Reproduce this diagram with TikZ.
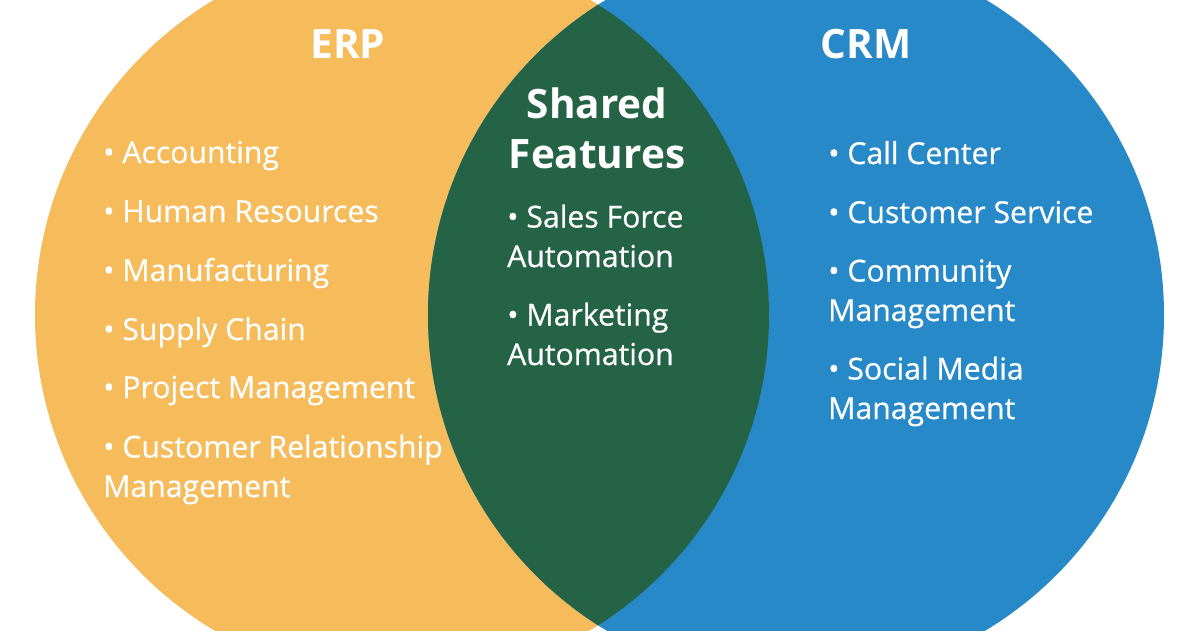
\documentclass[tikz,border=0pt]{standalone}
\usepackage{fontspec}
\setmainfont{Open Sans}
\definecolor{erp}{HTML}{F6BB5A}
\definecolor{crm}{HTML}{2889C8}
\definecolor{shared}{HTML}{256346}
\begin{document}
\begin{tikzpicture}[x=1pt,y=-1pt,
  item/.style={anchor=base west,inner sep=0pt,text=white,font=\addfontfeatures{FakeBold=0.6}\fontsize{30.2}{39.5}\selectfont,align=left},
  title/.style={anchor=base,inner sep=0pt,text=white,font=\bfseries\fontsize{40.5}{50}\selectfont,align=center}]
\useasboundingbox (0,0) rectangle (1200,630);
\clip (0,0) rectangle (1200,630);
\fill[erp] (402,315) circle (367);
\fill[crm] (796,315) circle (368);
\begin{scope}
\clip (402,315) circle (367);
\fill[shared] (796,315) circle (368);
\end{scope}
\node[title] (erp) at (348,58) {ERP};
\node[title] (crm) at (866,58) {CRM};
\node[title] (sh) at (597,168) {Shared\\Features};
\node[item] (a1) at (103,163) {• Accounting};
\node[item] (a2) at (103,222) {• Human Resources};
\node[item] (a3) at (103,281) {• Manufacturing};
\node[item] (a4) at (103,340) {• Supply Chain};
\node[item] (a5) at (103,398) {• Project Management};
\node[item] (a6) at (103,497) {• Customer Relationship\\Management};
\node[item] (s1) at (507,267) {• Sales Force\\Automation};
\node[item] (s2) at (507,365) {• Marketing\\Automation};
\node[item] (c1) at (828,164) {• Call Center};
\node[item] (c2) at (828,223) {• Customer Service};
\node[item] (c3) at (828,321) {• Community\\Management};
\node[item] (c4) at (828,419) {• Social Media\\Management};
\end{tikzpicture}
\end{document}
